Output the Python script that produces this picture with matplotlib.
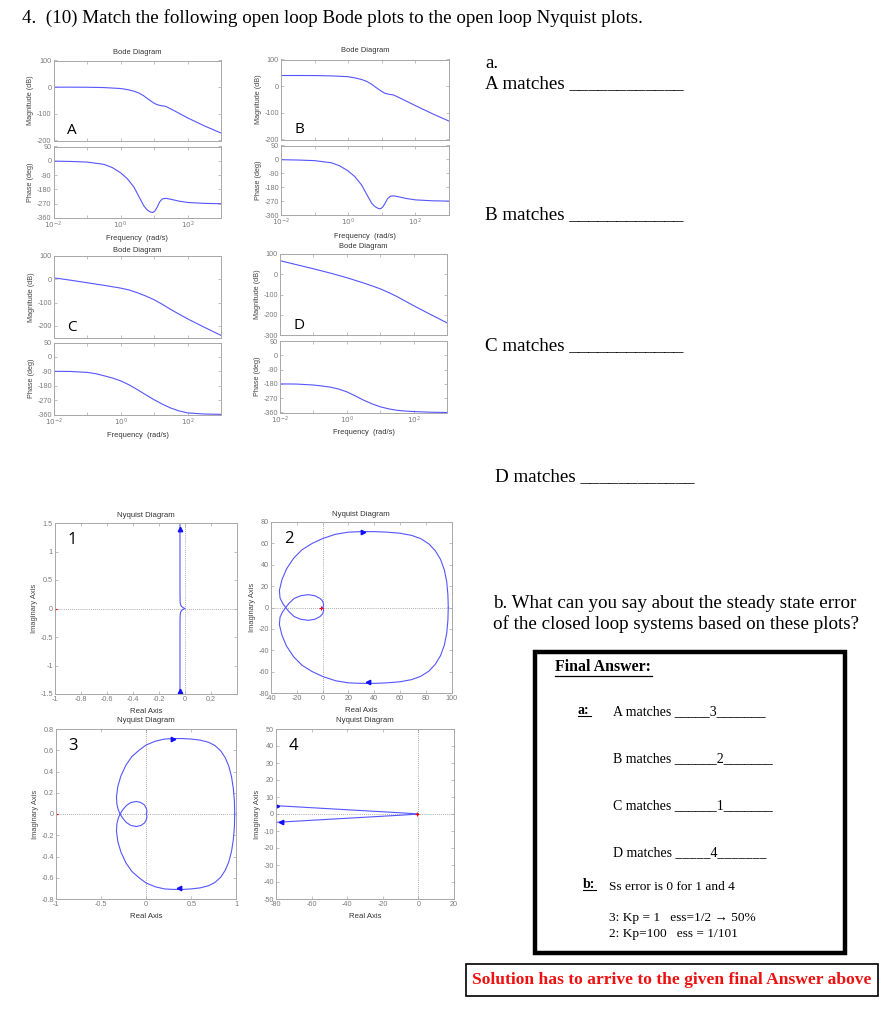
import matplotlib
matplotlib.use('Agg')
import matplotlib.pyplot as plt
from matplotlib.patches import Rectangle
from matplotlib.lines import Line2D
from matplotlib.ticker import FixedLocator, FixedFormatter, NullLocator

# ---------------- data ----------------
# Bode frequencies (rad/s) and values
w_A = [0.01, 0.0316, 0.1, 0.316, 1, 1.585, 2.512, 3.548, 5.012, 7.079, 10, 12.59, 15.85, 22.39, 39.81, 100, 316.2, 1000]
magA = [0, 0, -0.3, -1.5, -5, -9, -15, -22, -33, -47, -60, -66, -69, -72, -88, -115, -145, -172]
magB = [40, 40, 39.8, 38.5, 35.5, 31, 25, 18, 7, -7, -20, -27, -30, -33, -48, -73, -103, -131]

w_pA = [0.01, 0.0316, 0.1, 0.316, 0.562, 1, 1.585, 2.512, 3.548, 5.012, 6.31, 7.94, 9.33, 10.72, 12.59, 14.79, 17.78, 22.39, 31.62, 56.23, 100, 316.2, 1000]
phA = [-2, -4, -8, -22, -42, -75, -112, -165, -225, -285, -310, -323, -325, -315, -290, -258, -240, -236, -242, -254, -262, -268, -270]
phB = [-2, -4, -8, -22, -42, -75, -112, -166, -226, -284, -306, -318, -319, -308, -284, -255, -239, -236, -242, -254, -262, -268, -270]

w_C = [0.01, 0.0316, 0.1, 0.316, 1, 1.778, 3.162, 5.623, 10, 17.78, 31.62, 100, 316.2, 1000]
magC = [6, -4, -15, -26, -38, -46, -58, -72, -88, -108, -130, -170, -206, -241]
magD = [67, 47, 27, 6, -17, -30, -43, -57, -72, -90, -110, -155, -198, -240]

w_pC = [0.01, 0.0316, 0.1, 0.178, 0.316, 0.562, 1, 1.778, 3.162, 5.623, 10, 17.78, 31.62, 56.23, 100, 316.2, 1000]
phC = [-90, -91, -97, -105, -118, -132, -150, -175, -205, -237, -268, -296, -320, -338, -350, -357, -359]
phD = [-180, -181, -187, -193, -200, -212, -230, -255, -282, -305, -324, -337, -346, -351, -354, -358, -360]

# Nyquist positive-frequency branches (the negative branch is the mirror image)
re1 = [-0.036, -0.036, -0.036, -0.035, -0.032, -0.025, -0.015, -0.005, 0.0]
im1 = [-1.7, -1.0, -0.3, -0.12, -0.07, -0.04, -0.02, -0.007, 0.0]

re2 = [97.5, 97.2, 96.3, 94.5, 91.5, 87.5, 82.5, 76, 69, 60, 50, 40, 30, 20, 10, 0, -8, -16, -22.5, -28, -31.5,
       -33.5, -33, -31, -28.6, -26, -22, -17, -11, -6, -2, 0, 0.8, 0.5, 0]
im2 = [0, -12, -24, -35, -45, -53, -59.5, -64.5, -67.5, -69.5, -70.5, -71, -71, -70.5, -68.5, -64.5, -60, -54, -46, -36, -26,
       -16, -9, -4, 0, 4, 8.5, 11, 12, 11, 8.5, 6, 3, 0.5, 0]

re3 = [0.98, 0.977, 0.965, 0.945, 0.915, 0.875, 0.825, 0.76, 0.69, 0.6, 0.5, 0.4, 0.3, 0.2, 0.1, 0.0, -0.08, -0.16,
       -0.225, -0.28, -0.315, -0.33, -0.325, -0.31, -0.29, -0.26, -0.22, -0.17, -0.11, -0.06, -0.02, 0.0, 0.008, 0.004, 0.0]
im3 = [0, -0.12, -0.24, -0.35, -0.45, -0.53, -0.595, -0.645, -0.675, -0.695, -0.705, -0.71, -0.71, -0.705, -0.685, -0.65, -0.6,
       -0.54, -0.46, -0.36, -0.26, -0.16, -0.09, -0.04, 0, 0.04, 0.08, 0.108, 0.118, 0.108, 0.085, 0.055, 0.025, 0.005, 0]

re4 = [-90, -80, -60, -40, -20, -10, -4, -1.5, 0]
im4 = [5.5, 4.9, 3.7, 2.5, 1.3, 0.7, 0.3, 0.1, 0]

# arrow markers (x, y, marker)
arr1 = [(-0.036, 1.39, '^'), (-0.036, -1.45, '^')]
arr2 = [(31, 70.3, '>'), (35, -69.7, '<')]
arr3 = [(0.30, 0.706, '>'), (0.36, -0.697, '<')]
arr4 = [(-79.5, 4.9, '>'), (-77, -4.7, '<')]

# tick labels
bode_xt = [1e-2, 1e-1, 1e0, 1e1, 1e2, 1e3]
bode_xl = ['$10^{-2}$', '', '$10^{0}$', '', '$10^{2}$', '']
magAB_t = [-200, -100, 0, 100]
magC_t = [-200, -100, 0, 100]
magD_t = [-300, -200, -100, 0, 100]
ph_t = [-360, -270, -180, -90, 0, 90]

n1_xt = [-1, -0.8, -0.6, -0.4, -0.2, 0, 0.2]
n1_xl = ['-1', '-0.8', '-0.6', '-0.4', '-0.2', '0', '0.2']
n1_yt = [-1.5, -1, -0.5, 0, 0.5, 1, 1.5]
n1_yl = ['-1.5', '-1', '-0.5', '0', '0.5', '1', '1.5']
n2_xt = [-40, -20, 0, 20, 40, 60, 80, 100]
n2_yt = [-80, -60, -40, -20, 0, 20, 40, 60, 80]
n3_xt = [-1, -0.5, 0, 0.5, 1]
n3_xl = ['-1', '-0.5', '0', '0.5', '1']
n3_yt = [-0.8, -0.6, -0.4, -0.2, 0, 0.2, 0.4, 0.6, 0.8]
n3_yl = ['-0.8', '-0.6', '-0.4', '-0.2', '0', '0.2', '0.4', '0.6', '0.8']
n4_xt = [-80, -60, -40, -20, 0, 20]
n4_yt = [-50, -40, -30, -20, -10, 0, 10, 20, 30, 40, 50]

# ---------------- figure ----------------
W, H = 883, 1024
fig = plt.figure(figsize=(W / 100, H / 100), dpi=100)
fig.patch.set_facecolor('white')

SANS = 'Liberation Sans'
SERIF = ['Liberation Serif', 'DejaVu Serif']
LINE = '#5555ff'
SPINE = '#a8a8a8'
TICKLAB = '#7a7a7a'


def add_ax(x0, y0, x1, y1):
    return fig.add_axes([x0 / W, 1 - y1 / H, (x1 - x0) / W, (y1 - y0) / H])


def ftext(x, y, s, **kw):
    return fig.text(x / W, 1 - y / H, s, **kw)


def style(ax):
    for sp in ax.spines.values():
        sp.set_color(SPINE)
        sp.set_linewidth(0.7)
    ax.tick_params(direction='in', length=2, width=0.5, colors=SPINE, labelcolor=TICKLAB,
                   labelsize=5.2, top=True, right=True, pad=1.5)
    for lab in ax.get_xticklabels() + ax.get_yticklabels():
        lab.set_family(SANS)


def bode(box_m, box_p, w_m, mag, w_p, ph, magt, maglim, letter, title_y, xlabel_y):
    am = add_ax(*box_m)
    ap = add_ax(*box_p)
    am.semilogx(w_m, mag, color=LINE, lw=0.8)
    ap.semilogx(w_p, ph, color=LINE, lw=0.8)
    for ax in (am, ap):
        ax.set_xlim(1e-2, 1e3)
        ax.xaxis.set_major_locator(FixedLocator(bode_xt))
        ax.xaxis.set_minor_locator(NullLocator())
    am.set_xticklabels([''] * len(bode_xt))
    ap.xaxis.set_major_formatter(FixedFormatter(bode_xl))
    am.set_ylim(*maglim)
    am.set_yticks(magt)
    am.set_yticklabels([str(v) for v in magt])
    ap.set_ylim(-360, 90)
    ap.set_yticks(ph_t)
    ap.set_yticklabels([str(v) for v in ph_t])
    style(am)
    style(ap)
    am.set_ylabel('Magnitude (dB)', fontsize=5.2, family=SANS, color='#444444', labelpad=2)
    ap.set_ylabel('Phase (deg)', fontsize=5.2, family=SANS, color='#444444', labelpad=2)
    cx = (box_m[0] + box_m[2]) / 2
    ftext(cx, title_y, 'Bode Diagram', fontsize=5.4, family=SANS, color='#333333', ha='center', va='center')
    ftext(cx, xlabel_y, 'Frequency  (rad/s)', fontsize=5.4, family=SANS, color='#333333', ha='center', va='center')
    am.text(0.08, 0.12, letter, transform=am.transAxes, fontsize=11, family='Open Sans', color='black',
            ha='left', va='center')


bode((53.5, 60.5, 221, 140.5), (53.5, 146.5, 221, 218), w_A, magA, w_pA, phA, magAB_t, (-200, 100), 'A', 53, 239)
bode((281, 59.5, 449, 139.5), (281, 145.5, 449, 215), w_A, magB, w_pA, phB, magAB_t, (-200, 100), 'B', 51, 236.5)
bode((54, 256, 221, 337.5), (54, 342.5, 221, 414.5), w_C, magC, w_pC, phC, magC_t, (-250, 100), 'C', 250, 435.5)
bode((280, 254, 447, 335), (280, 341, 447, 412.5), w_C, magD, w_pC, phD, magD_t, (-300, 100), 'D', 247, 432)


def nyquist(box, re, im, arrows, xt, xl, yt, yl, xlim, ylim, num, title_y, xlabel_y):
    ax = add_ax(*box)
    ax.axhline(0, color='#909090', lw=0.6, ls=(0, (1, 1.5)))
    ax.axvline(0, color='#909090', lw=0.6, ls=(0, (1, 1.5)))
    ax.plot(re, im, color=LINE, lw=0.8)
    ax.plot(re, [-v for v in im], color=LINE, lw=0.8)
    for (x, y, m) in arrows:
        ax.plot([x], [y], marker=m, color='#1010ff', ms=3.2, mec='#1010ff')
    ax.plot([-1], [0], marker='+', color='red', ms=3, mew=0.8)
    ax.set_xlim(*xlim)
    ax.set_ylim(*ylim)
    ax.set_xticks(xt)
    ax.set_xticklabels(xl)
    ax.set_yticks(yt)
    ax.set_yticklabels(yl)
    style(ax)
    ax.set_ylabel('Imaginary Axis', fontsize=5.4, family=SANS, color='#444444', labelpad=2)
    cx = (box[0] + box[2]) / 2
    ftext(cx, title_y, 'Nyquist Diagram', fontsize=5.6, family=SANS, color='#333333', ha='center', va='center')
    ftext(cx, xlabel_y, 'Real Axis', fontsize=5.6, family=SANS, color='#333333', ha='center', va='center')
    ax.text(0.07, 0.9, num, transform=ax.transAxes, fontsize=12, family='Open Sans', color='black',
            ha='left', va='center')
    return ax


nyquist((55, 523, 236.5, 694), re1, im1, arr1, n1_xt, n1_xl, n1_yt, n1_yl, (-1, 0.4), (-1.5, 1.5), '1', 515.5, 711.5)
nyquist((271, 522, 451.5, 693), re2, im2, arr2, n2_xt, [str(v) for v in n2_xt], n2_yt, [str(v) for v in n2_yt],
        (-40, 100), (-80, 80), '2', 514, 711)
nyquist((56, 729, 236.5, 899), re3, im3, arr3, n3_xt, n3_xl, n3_yt, n3_yl, (-1, 1), (-0.8, 0.8), '3', 721, 917)
nyquist((276, 729, 454, 899), re4, im4, arr4, n4_xt, [str(v) for v in n4_xt], n4_yt, [str(v) for v in n4_yt],
        (-80, 20), (-50, 50), '4', 721, 917)

# ---------------- page text ----------------
BIG = 13.7
ftext(22, 18, '4.  (10) Match the following open loop Bode plots to the open loop Nyquist plots.',
      fontsize=BIG, family=SERIF, ha='left', va='center')
ftext(485, 63, 'a.', fontsize=BIG, family=SERIF, ha='left', va='center')
ftext(485, 84, 'A matches ____________', fontsize=BIG, family=SERIF, ha='left', va='center')
ftext(485, 215, 'B matches ____________', fontsize=BIG, family=SERIF, ha='left', va='center')
ftext(485, 346, 'C matches ____________', fontsize=BIG, family=SERIF, ha='left', va='center')
ftext(495, 477, 'D matches ____________', fontsize=BIG, family=SERIF, ha='left', va='center')
ftext(493, 603, 'b. What can you say about the steady state error', fontsize=BIG, family=SERIF, ha='left', va='center')
ftext(493, 624, 'of the closed loop systems based on these plots?', fontsize=BIG, family=SERIF, ha='left', va='center')

# Final answer box
fig.add_artist(Rectangle((535 / W, 1 - 953 / H), (845 - 535) / W, (953 - 652) / H, transform=fig.transFigure,
                         fill=False, edgecolor='black', linewidth=3.2))
SM = 10.0
ftext(555, 667, 'Final Answer:', fontsize=11.4, family=SERIF, weight='bold', ha='left', va='center')
fig.add_artist(Line2D([555 / W, 652 / W], [1 - 676 / H, 1 - 676 / H], color='black', lw=0.9))
ftext(578, 710, 'a:', fontsize=SM, family=SERIF, weight='bold', ha='left', va='center')
fig.add_artist(Line2D([578 / W, 591 / W], [1 - 716 / H, 1 - 716 / H], color='black', lw=0.8))
ftext(613, 712, 'A matches _____3_______', fontsize=SM, family=SERIF, ha='left', va='center')
ftext(613, 759, 'B matches ______2_______', fontsize=SM, family=SERIF, ha='left', va='center')
ftext(613, 806, 'C matches ______1_______', fontsize=SM, family=SERIF, ha='left', va='center')
ftext(613, 853, 'D matches _____4_______', fontsize=SM, family=SERIF, ha='left', va='center')
ftext(583, 884, 'b:', fontsize=SM, family=SERIF, weight='bold', ha='left', va='center')
fig.add_artist(Line2D([583 / W, 596 / W], [1 - 890 / H, 1 - 890 / H], color='black', lw=0.8))
ftext(609, 887, 'Ss error is 0 for 1 and 4', fontsize=9.6, family=SERIF, ha='left', va='center')
ftext(609, 918, '3: Kp = 1   ess=1/2 \u2192 50%', fontsize=9.6, family=SERIF, ha='left', va='center')
ftext(609, 934, '2: Kp=100   ess = 1/101', fontsize=9.6, family=SERIF, ha='left', va='center')

# red note box
fig.add_artist(Rectangle((466 / W, 1 - 996 / H), (878 - 466) / W, (996 - 964) / H, transform=fig.transFigure,
                         fill=False, edgecolor='black', linewidth=1.2))
ftext(672, 980, 'Solution has to arrive to the given final Answer above', fontsize=12.6, family=SERIF,
      weight='bold', color='#ee1111', ha='center', va='center')

fig.savefig('out.png', dpi=100, facecolor='white')
